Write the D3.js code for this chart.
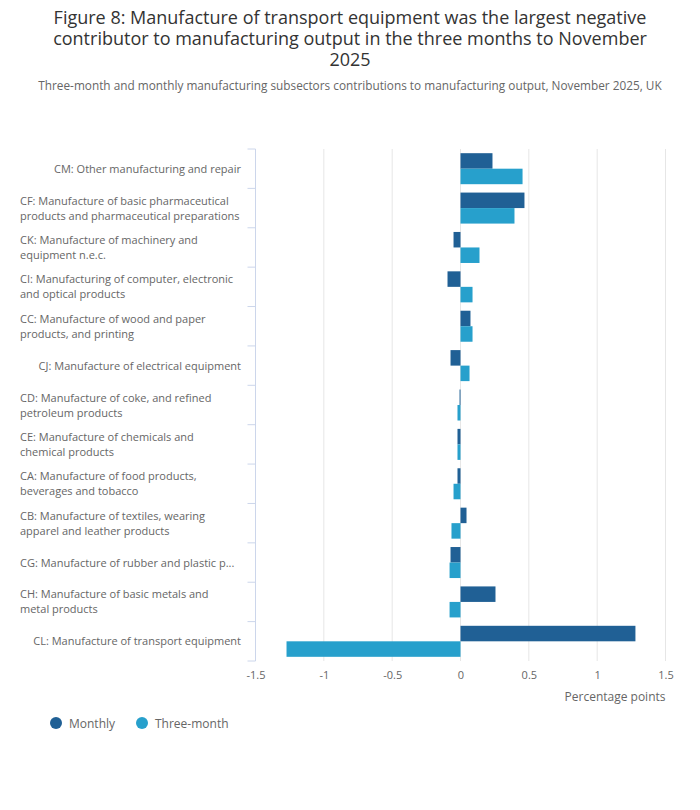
<!DOCTYPE html>
<html>
<head>
<meta charset="utf-8">
<script src="https://cdn.jsdelivr.net/npm/d3@7"></script>
<style>
  body { margin: 0; background: #fff; font-family: "Open Sans", sans-serif; }
  svg text { font-family: "Open Sans", sans-serif; }
</style>
</head>
<body>
<svg id="chart"></svg>
<script>
// data ("\n" marks where the label wraps)
const categories = [
  "CM: Other manufacturing and repair",
  "CF: Manufacture of basic pharmaceutical\nproducts and pharmaceutical preparations",
  "CK: Manufacture of machinery and\nequipment n.e.c.",
  "CI: Manufacturing of computer, electronic\nand optical products",
  "CC: Manufacture of wood and paper\nproducts, and printing",
  "CJ: Manufacture of electrical equipment",
  "CD: Manufacture of coke, and refined\npetroleum products",
  "CE: Manufacture of chemicals and\nchemical products",
  "CA: Manufacture of food products,\nbeverages and tobacco",
  "CB: Manufacture of textiles, wearing\napparel and leather products",
  "CG: Manufacture of rubber and plastic p...",
  "CH: Manufacture of basic metals and\nmetal products",
  "CL: Manufacture of transport equipment"
];
const seriesNames = ["Monthly", "Three-month"];
const monthly    = [0.234, 0.468, -0.051, -0.095, 0.073, -0.073, -0.007, -0.022, -0.022, 0.044, -0.073, 0.256, 1.28];
const threeMonth = [0.454, 0.395, 0.139, 0.088, 0.088, 0.066, -0.022, -0.022, -0.051, -0.066, -0.080, -0.080, -1.273];
const xTicks = [-1.5, -1, -0.5, 0, 0.5, 1, 1.5];
const colors = ["#206095", "#27a0cc"];

const width = 700, height = 810;
const mLeft = 255.5, mRight = 665.5, mTop = 149, mBottom = 661;

const svg = d3.select("#chart").attr("width", width).attr("height", height);

// titles
const title = svg.append("text")
  .attr("x", width / 2).attr("y", 24)
  .attr("text-anchor", "middle")
  .style("font-size", "18px").style("fill", "#333");
["Figure 8: Manufacture of transport equipment was the largest negative",
 "contributor to manufacturing output in the three months to November",
 "2025"].forEach((t, i) => title.append("tspan").attr("x", width / 2).attr("dy", i ? 21 : 0).text(t));

svg.append("text")
  .attr("x", width / 2).attr("y", 90)
  .attr("text-anchor", "middle")
  .style("font-size", "11.8px").style("fill", "#666")
  .text("Three-month and monthly manufacturing subsectors contributions to manufacturing output, November 2025, UK");

const x = d3.scaleLinear().domain([-1.5, 1.5]).range([mLeft, mRight]);
const y0 = d3.scaleBand().domain(categories).range([mTop, mBottom]).padding(0);
const y1 = d3.scaleBand().domain(seriesNames).range([0, y0.bandwidth()]).paddingInner(0).paddingOuter(0.27);

// gridlines
svg.append("g").selectAll("line")
  .data(xTicks.filter(d => d !== -1.5))
  .join("line")
  .attr("x1", d => x(d)).attr("x2", d => x(d))
  .attr("y1", mTop).attr("y2", mBottom)
  .attr("stroke", "#e6e6e6").attr("stroke-width", 1);

// x axis labels
const xAxis = svg.append("g")
  .attr("transform", `translate(0,${mBottom})`)
  .call(d3.axisBottom(x).tickValues(xTicks).tickSize(0).tickPadding(10).tickFormat(d => String(d)));
xAxis.select(".domain").remove();
xAxis.selectAll("text").style("font-size", "11px").style("fill", "#666").style("font-family", "Open Sans");

svg.append("text")
  .attr("x", mRight).attr("y", 701)
  .attr("text-anchor", "end")
  .style("font-size", "12px").style("fill", "#666")
  .text("Percentage points");

// left axis with ticks on category boundaries
const yAxis = svg.append("g");
yAxis.append("line")
  .attr("x1", mLeft).attr("x2", mLeft).attr("y1", mTop).attr("y2", mBottom)
  .attr("stroke", "#ccd6eb");
yAxis.selectAll(".tk")
  .data(categories.map(c => y0(c)).concat([mBottom]))
  .join("line").attr("class", "tk")
  .attr("x1", mLeft - 8).attr("x2", mLeft)
  .attr("y1", d => d).attr("y2", d => d)
  .attr("stroke", "#ccd6eb");

// category labels (wrapped or truncated ones sit left-aligned in the label box)
const labelRight = 241, labelLeft = 20, lineH = 15;
const labels = svg.append("g");
categories.forEach(c => {
  const lines = c.split("\n");
  const t = labels.append("text").style("font-size", "11px").style("fill", "#666");
  const cy = y0(c) + y0.bandwidth() / 2;
  const boxed = lines.length > 1 || c.endsWith("...");
  t.attr("text-anchor", boxed ? "start" : "end");
  const startY = cy - (lines.length - 1) * lineH / 2 + 4;
  lines.forEach((l, i) => {
    t.append("tspan").attr("x", boxed ? labelLeft : labelRight).attr("y", startY + i * lineH).text(l);
  });
});

// bars
const values = [monthly, threeMonth];
seriesNames.forEach((s, si) => {
  svg.append("g").selectAll("rect")
    .data(categories.map((c, i) => ({ c, v: values[si][i] })))
    .join("rect")
    .attr("x", d => x(Math.min(0, d.v)))
    .attr("width", d => Math.abs(x(d.v) - x(0)))
    .attr("y", d => y0(d.c) + y1(s))
    .attr("height", y1.bandwidth())
    .attr("fill", colors[si]);
});

// legend
const legendPos = [56, 142];
const legend = svg.append("g");
seriesNames.forEach((s, i) => {
  legend.append("circle").attr("cx", legendPos[i]).attr("cy", 723).attr("r", 6).attr("fill", colors[i]);
  legend.append("text").attr("x", legendPos[i] + 13).attr("y", 728)
    .style("font-size", "12px").style("fill", "#666").text(s);
});
</script>
</body>
</html>
